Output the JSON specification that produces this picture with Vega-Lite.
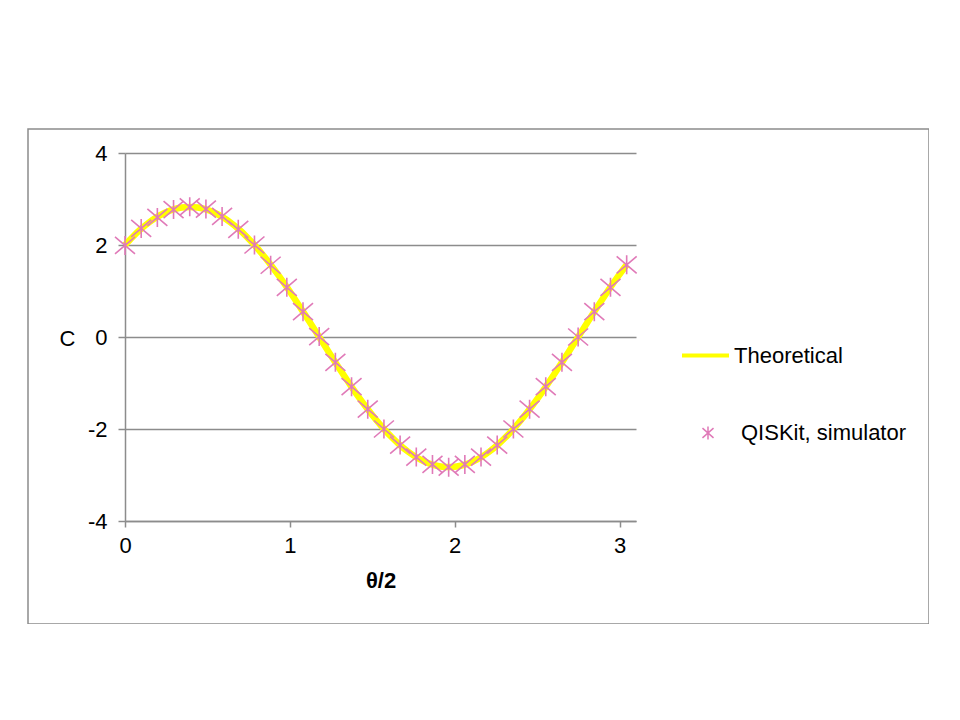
{
  "$schema": "https://vega.github.io/schema/vega-lite/v6.json",
  "width": 901,
  "height": 495,
  "autosize": "none",
  "padding": {"left": 28, "top": 129, "right": 0, "bottom": 0},
  "background": "white",
  "config": {
    "font": "Liberation Sans",
    "view": {"stroke": "#8c8c8c", "strokeWidth": 1.5},
    "axis": {"labelColor": "#000", "titleColor": "#000", "labelFontSize": 22, "titleFontSize": 22},
    "legend": {"labelColor": "#000", "labelFontSize": 22, "labelLimit": 400}
  },
  "datasets": {
    "theory": [
      {"x": 0, "c": 2.0, "series": "Theoretical"},
      {"x": 0.0491, "c": 2.1864, "series": "Theoretical"},
      {"x": 0.0982, "c": 2.3518, "series": "Theoretical"},
      {"x": 0.1473, "c": 2.4944, "series": "Theoretical"},
      {"x": 0.1963, "c": 2.6131, "series": "Theoretical"},
      {"x": 0.2454, "c": 2.7066, "series": "Theoretical"},
      {"x": 0.2945, "c": 2.7741, "series": "Theoretical"},
      {"x": 0.3436, "c": 2.8148, "series": "Theoretical"},
      {"x": 0.3927, "c": 2.8284, "series": "Theoretical"},
      {"x": 0.4418, "c": 2.8148, "series": "Theoretical"},
      {"x": 0.4909, "c": 2.7741, "series": "Theoretical"},
      {"x": 0.54, "c": 2.7066, "series": "Theoretical"},
      {"x": 0.589, "c": 2.6131, "series": "Theoretical"},
      {"x": 0.6381, "c": 2.4944, "series": "Theoretical"},
      {"x": 0.6872, "c": 2.3518, "series": "Theoretical"},
      {"x": 0.7363, "c": 2.1864, "series": "Theoretical"},
      {"x": 0.7854, "c": 2.0, "series": "Theoretical"},
      {"x": 0.8345, "c": 1.7943, "series": "Theoretical"},
      {"x": 0.8836, "c": 1.5714, "series": "Theoretical"},
      {"x": 0.9327, "c": 1.3333, "series": "Theoretical"},
      {"x": 0.9817, "c": 1.0824, "series": "Theoretical"},
      {"x": 1.0308, "c": 0.821, "series": "Theoretical"},
      {"x": 1.0799, "c": 0.5518, "series": "Theoretical"},
      {"x": 1.129, "c": 0.2772, "series": "Theoretical"},
      {"x": 1.1781, "c": 0, "series": "Theoretical"},
      {"x": 1.2272, "c": -0.2772, "series": "Theoretical"},
      {"x": 1.2763, "c": -0.5518, "series": "Theoretical"},
      {"x": 1.3254, "c": -0.821, "series": "Theoretical"},
      {"x": 1.3744, "c": -1.0824, "series": "Theoretical"},
      {"x": 1.4235, "c": -1.3333, "series": "Theoretical"},
      {"x": 1.4726, "c": -1.5714, "series": "Theoretical"},
      {"x": 1.5217, "c": -1.7943, "series": "Theoretical"},
      {"x": 1.5708, "c": -2.0, "series": "Theoretical"},
      {"x": 1.6199, "c": -2.1864, "series": "Theoretical"},
      {"x": 1.669, "c": -2.3518, "series": "Theoretical"},
      {"x": 1.7181, "c": -2.4944, "series": "Theoretical"},
      {"x": 1.7671, "c": -2.6131, "series": "Theoretical"},
      {"x": 1.8162, "c": -2.7066, "series": "Theoretical"},
      {"x": 1.8653, "c": -2.7741, "series": "Theoretical"},
      {"x": 1.9144, "c": -2.8148, "series": "Theoretical"},
      {"x": 1.9635, "c": -2.8284, "series": "Theoretical"},
      {"x": 2.0126, "c": -2.8148, "series": "Theoretical"},
      {"x": 2.0617, "c": -2.7741, "series": "Theoretical"},
      {"x": 2.1108, "c": -2.7066, "series": "Theoretical"},
      {"x": 2.1598, "c": -2.6131, "series": "Theoretical"},
      {"x": 2.2089, "c": -2.4944, "series": "Theoretical"},
      {"x": 2.258, "c": -2.3518, "series": "Theoretical"},
      {"x": 2.3071, "c": -2.1864, "series": "Theoretical"},
      {"x": 2.3562, "c": -2.0, "series": "Theoretical"},
      {"x": 2.4053, "c": -1.7943, "series": "Theoretical"},
      {"x": 2.4544, "c": -1.5714, "series": "Theoretical"},
      {"x": 2.5035, "c": -1.3333, "series": "Theoretical"},
      {"x": 2.5525, "c": -1.0824, "series": "Theoretical"},
      {"x": 2.6016, "c": -0.821, "series": "Theoretical"},
      {"x": 2.6507, "c": -0.5518, "series": "Theoretical"},
      {"x": 2.6998, "c": -0.2772, "series": "Theoretical"},
      {"x": 2.7489, "c": 0, "series": "Theoretical"},
      {"x": 2.798, "c": 0.2772, "series": "Theoretical"},
      {"x": 2.8471, "c": 0.5518, "series": "Theoretical"},
      {"x": 2.8962, "c": 0.821, "series": "Theoretical"},
      {"x": 2.9452, "c": 1.0824, "series": "Theoretical"},
      {"x": 2.9943, "c": 1.3333, "series": "Theoretical"},
      {"x": 3.0434, "c": 1.5714, "series": "Theoretical"}
    ],
    "sim": [
      {"x": 0, "c": 1.99, "series": "QISKit, simulator"},
      {"x": 0.0982, "c": 2.36, "series": "QISKit, simulator"},
      {"x": 0.1963, "c": 2.6, "series": "QISKit, simulator"},
      {"x": 0.2945, "c": 2.77, "series": "QISKit, simulator"},
      {"x": 0.3927, "c": 2.83, "series": "QISKit, simulator"},
      {"x": 0.4909, "c": 2.78, "series": "QISKit, simulator"},
      {"x": 0.589, "c": 2.62, "series": "QISKit, simulator"},
      {"x": 0.6872, "c": 2.34, "series": "QISKit, simulator"},
      {"x": 0.7854, "c": 2.0, "series": "QISKit, simulator"},
      {"x": 0.8836, "c": 1.56, "series": "QISKit, simulator"},
      {"x": 0.9817, "c": 1.08, "series": "QISKit, simulator"},
      {"x": 1.0799, "c": 0.55, "series": "QISKit, simulator"},
      {"x": 1.1781, "c": 0.01, "series": "QISKit, simulator"},
      {"x": 1.2763, "c": -0.55, "series": "QISKit, simulator"},
      {"x": 1.3744, "c": -1.08, "series": "QISKit, simulator"},
      {"x": 1.4726, "c": -1.57, "series": "QISKit, simulator"},
      {"x": 1.5708, "c": -2.0, "series": "QISKit, simulator"},
      {"x": 1.669, "c": -2.35, "series": "QISKit, simulator"},
      {"x": 1.7671, "c": -2.61, "series": "QISKit, simulator"},
      {"x": 1.8653, "c": -2.77, "series": "QISKit, simulator"},
      {"x": 1.9635, "c": -2.83, "series": "QISKit, simulator"},
      {"x": 2.0617, "c": -2.77, "series": "QISKit, simulator"},
      {"x": 2.1598, "c": -2.61, "series": "QISKit, simulator"},
      {"x": 2.258, "c": -2.35, "series": "QISKit, simulator"},
      {"x": 2.3562, "c": -2.0, "series": "QISKit, simulator"},
      {"x": 2.4544, "c": -1.57, "series": "QISKit, simulator"},
      {"x": 2.5525, "c": -1.08, "series": "QISKit, simulator"},
      {"x": 2.6507, "c": -0.55, "series": "QISKit, simulator"},
      {"x": 2.7489, "c": 0.0, "series": "QISKit, simulator"},
      {"x": 2.8471, "c": 0.55, "series": "QISKit, simulator"},
      {"x": 2.9452, "c": 1.08, "series": "QISKit, simulator"},
      {"x": 3.0434, "c": 1.57, "series": "QISKit, simulator"}
    ]
  },
  "encoding": {
    "x": {
      "field": "x",
      "type": "quantitative",
      "scale": {"domain": [0, 3.1], "range": [97, 608], "nice": false, "zero": false},
      "axis": {
        "values": [0, 1, 2, 3],
        "labelExpr": "'' + datum.value",
        "labelFlush": false,
        "grid": false,
        "offset": -103,
        "domainColor": "#8c8c8c",
        "domainWidth": 1.5,
        "tickColor": "#8c8c8c",
        "tickWidth": 1.5,
        "tickSize": 6,
        "labelPadding": 8,
        "title": "θ/2",
        "titleFontWeight": "bold",
        "titlePadding": 14
      }
    },
    "y": {
      "field": "c",
      "type": "quantitative",
      "scale": {"domain": [-4, 4], "range": [392, 24], "nice": false, "zero": false},
      "axis": {
        "values": [-4, -2, 0, 2, 4],
        "labelExpr": "'' + datum.value",
        "labelFlush": false,
        "grid": true,
        "gridColor": "#8c8c8c",
        "gridWidth": 1.5,
        "gridOpacity": 1,
        "offset": -97,
        "domainColor": "#8c8c8c",
        "domainWidth": 1.5,
        "tickColor": "#8c8c8c",
        "tickWidth": 1.5,
        "tickSize": 7,
        "labelPadding": 11,
        "title": "C",
        "titleFontWeight": "normal",
        "titleAngle": 0,
        "titleAlign": "center",
        "titleBaseline": "middle",
        "titleX": -58,
        "titleY": 209
      }
    }
  },
  "layer": [
    {
      "data": {"name": "theory"},
      "mark": {"type": "line", "strokeWidth": 6.5, "interpolate": "monotone"},
      "encoding": {
        "stroke": {
          "field": "series",
          "type": "nominal",
          "scale": {"range": ["#ffff00"]},
          "legend": {
            "orient": "none",
            "legendX": 652,
            "legendY": 201,
            "title": null,
            "symbolType": "stroke",
            "symbolStrokeWidth": 4,
            "symbolSize": 2209,
            "labelOffset": 3
          }
        }
      }
    },
    {
      "data": {"name": "sim"},
      "mark": {
        "type": "point",
        "shape": "M0,-0.95V0.95M-1,-0.85L1,0.85M-1,0.85L1,-0.85",
        "size": 400,
        "filled": false,
        "strokeWidth": 1.6,
        "opacity": 1
      },
      "encoding": {
        "color": {
          "field": "series",
          "type": "nominal",
          "scale": {"range": ["#e07ab8"]},
          "legend": {
            "orient": "none",
            "legendX": 669,
            "legendY": 293,
            "title": null,
            "symbolType": "M0,-1V1M-0.85,-0.75L0.85,0.75M-0.85,0.75L0.85,-0.75",
            "symbolSize": 169,
            "symbolStrokeWidth": 1.5,
            "labelOffset": 22
          }
        }
      }
    }
  ]
}
